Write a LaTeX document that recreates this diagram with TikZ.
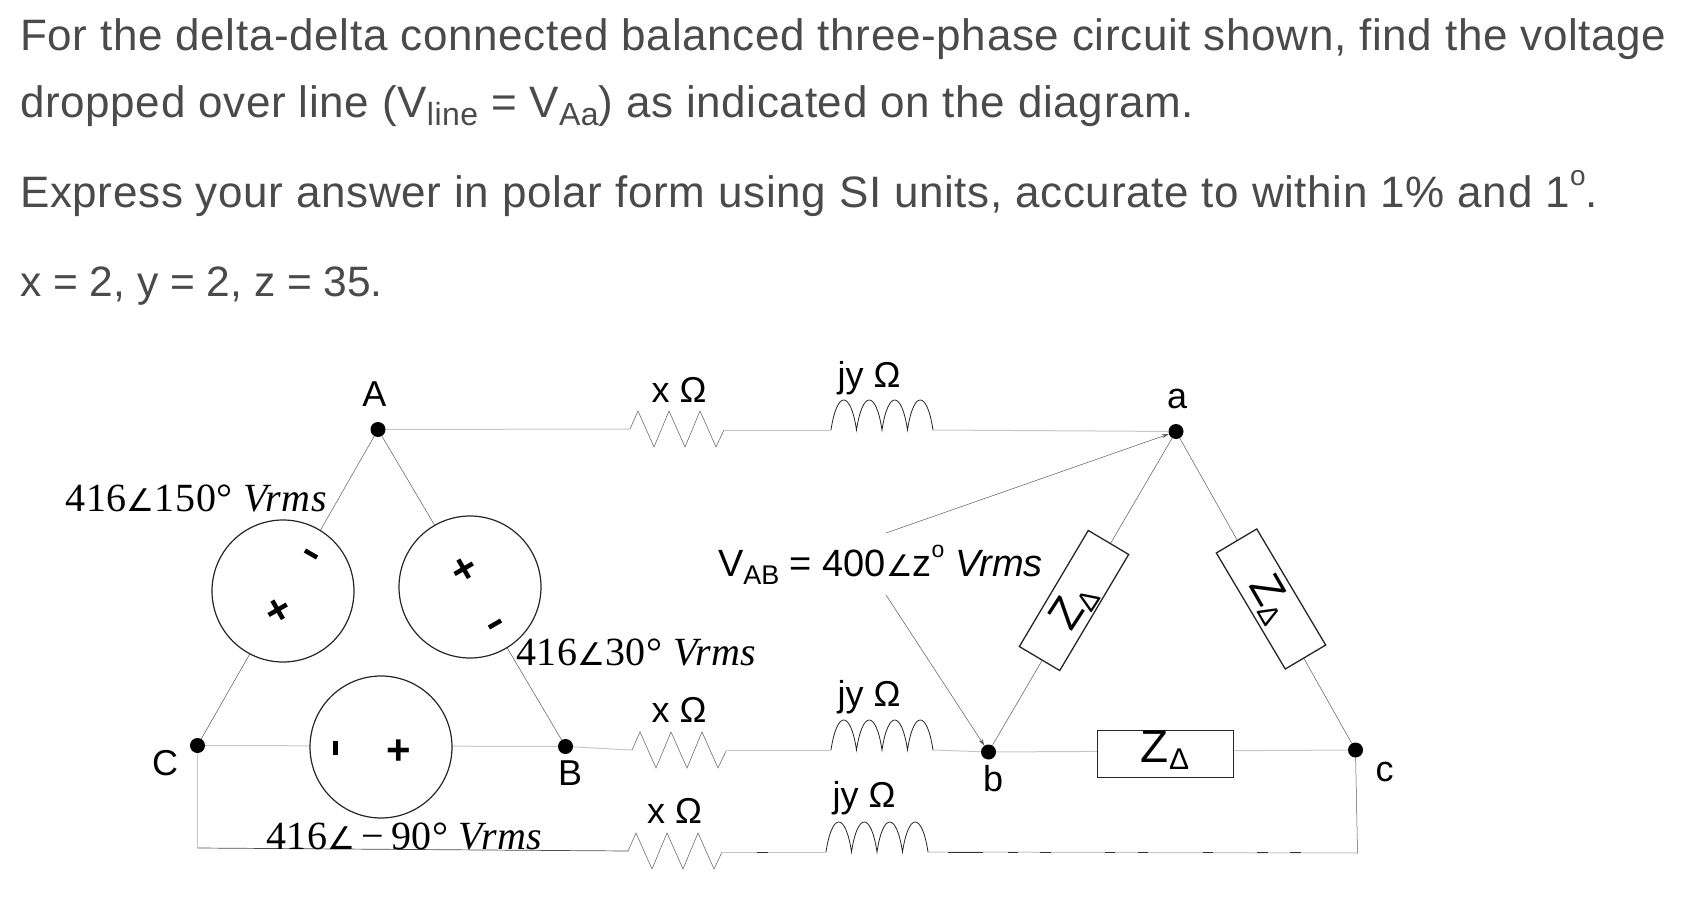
\documentclass[tikz,border=0pt]{standalone}
\usepackage{fontspec}
\setmainfont{Liberation Sans}
\newfontfamily\serifnum[LetterSpace=1.5]{Liberation Serif}
\newfontfamily\angf{DejaVu Sans}
\newfontfamily\paraf[LetterSpace=1.5]{Liberation Sans}
\usetikzlibrary{arrows.meta}
\definecolor{txt}{HTML}{4A4A4A}
\newcommand{\fs}[1]{\fontsize{#1}{#1}\selectfont}
\newcommand{\ang}{{\angf\fontsize{.78em}{1em}\selectfont ∠}}
\tikzset{
  x=1pt,y=-1pt,
  para/.style={anchor=base west,text=txt,inner sep=0,font=\paraf\fs{44}},
  lab/.style={inner sep=0,font=\fs{36}},
  mlab/.style={inner sep=0,font=\serifnum\fs{40}},
  dot/.style={circle,fill=black,minimum size=15pt,inner sep=0},
  source/.style={circle,draw=black!85,line width=1.2pt,fill=white,minimum size=142pt,inner sep=0},
  load/.style={draw=black!85,line width=1.3pt,fill=white,inner sep=0,minimum width=136pt,minimum height=47pt},
  lite/.style={draw=black!22,line width=1pt},
  thin wire/.style={draw=black!65,line width=.5pt},
  ind/.style={draw=black!85,line width=.8pt},
  pol/.style={inner sep=0,font=\bfseries\fs{42}},
  tip/.style={-{Stealth[length=7pt,width=4pt]},draw=black!65,line width=.5pt},
  dash seg/.style={draw=black!80,line width=1pt}
}
\newcommand{\zig}[1]{\draw[thin wire] (#1) -- ++(8,-18) -- ++(16,36) -- ++(15,-36) -- ++(16,36) -- ++(15,-36) -- ++(16,36) -- ++(8,-17);}
\newcommand{\arches}[1]{\draw[ind] (#1) .. controls +(6,-40) and +(-6,-40) .. ++(25.5,0) .. controls +(6,-40) and +(-6,-40) .. ++(25.5,0) .. controls +(6,-40) and +(-6,-40) .. ++(25.5,0) .. controls +(6,-40) and +(-6,-40) .. ++(25.5,0);}
\begin{document}
\begin{tikzpicture}
\useasboundingbox (0,0) rectangle (1692,920);
% text
\node[para] (l1) at (20,51) {For the delta-delta connected balanced three-phase circuit shown, find the voltage};
\node[para] (l2) at (20,118) {dropped over line (V\raisebox{-.18em}{\paraf\fs{32}line} = V\raisebox{-.18em}{\paraf\fs{32}Aa}) as indicated on the diagram.};
\node[para] (l3) at (20,208) {Express your answer in polar form using SI units, accurate to within 1\% and 1\raisebox{.5em}{\paraf\fs{28}o}.};
\node[para,font=\fs{42.5}] (l4) at (20,296) {x = 2, y = 2, z = 35.};
% junctions
\node[dot] (A) at (378,429.5) {};
\node[dot] (B) at (565.5,746.5) {};
\node[dot] (C) at (197.5,745.5) {};
\node[dot] (a) at (1176,431.5) {};
\node[dot] (b) at (988.5,752) {};
\node[dot] (c) at (1355.5,750) {};
% component terminals
\coordinate (r1) at (630,429);
\coordinate (r1e) at (724,430);
\coordinate (i1) at (831,430);
\coordinate (i1e) at (933,430);
\coordinate (r2) at (632,750);
\coordinate (r2e) at (726,750);
\coordinate (i2) at (831,750);
\coordinate (i2e) at (933,750);
\coordinate (r3) at (628,851);
\coordinate (r3e) at (722,852);
\coordinate (i3) at (826,852);
\coordinate (i3e) at (928,852);
\coordinate (c1) at (197.5,848);
\coordinate (c2) at (1357.5,853);
% wires
\draw[lite] (A) -- (r1);
\draw[lite] (r1e) -- (i1);
\draw[lite] (i1e) -- (a);
\draw[lite] (C) -- (B);
\draw[lite] (B) -- (r2);
\draw[lite] (r2e) -- (i2);
\draw[lite] (i2e) -- (b);
\draw[lite] (b) -- (c);
\draw[lite] (c1) -- (C);
\draw[draw=black!70,line width=.7pt] (c1) -- (r3);
\draw[lite] (r3e) -- (i3);
\draw[lite] (i3e) -- (c2);
\draw[thin wire] (c2) -- (c);
\draw[thin wire] (A) -- (C);
\draw[thin wire] (A) -- (B);
\draw[thin wire] (a) -- (b);
\draw[thin wire] (a) -- (c);
% broken dark dashes of the bottom wire
\foreach \u/\v in {757/768,948/983,1008/1018,1040/1051,1105/1115,1138/1148,1203/1213,1257/1268,1290/1301}
  \draw[dash seg] (\u,852.5) -- (\v,852.5);
% resistors and inductors
\zig{r1}\zig{r2}\zig{r3}
\arches{i1}\arches{i2}\arches{i3}
% sources
\node[source] (sl) at (283,591) {};
\node[source] (sr) at (470,587) {};
\node[source] (sb) at (381,747) {};
\node[pol,rotate=30] (p1) at (279,612) {+};
\node[inner sep=0,minimum width=14pt,minimum height=4.5pt,fill=black,rotate=-30] (m1) at (311,554) {};
\node[pol,rotate=30] (p2) at (465,571) {+};
\node[inner sep=0,minimum width=14pt,minimum height=4.5pt,fill=black,rotate=30] (m2) at (495,624) {};
\node[pol] (p3) at (399,752) {+};
\node[inner sep=0,minimum width=4.5pt,minimum height=14pt,fill=black] (m3) at (335.5,748) {};
% loads
\node[load,rotate=59.3,minimum width=135pt] (zl) at (1074,600.5) {};
\node[load,rotate=-59.3,minimum width=135pt] (zr) at (1271,599) {};
\node[load] (zb) at (1165.3,753.8) {};
\node[inner sep=0,rotate=57,font=\fs{44}] (zlt) at (1074,607) {Z\raisebox{-.15em}{\fs{28}Δ}};
\node[inner sep=0,rotate=-60,font=\fs{44}] (zrt) at (1270,599) {Z\raisebox{-.15em}{\fs{28}Δ}};
\node[inner sep=0,font=\fs{46}] (zbt) at (1165,750) {Z\raisebox{-.15em}{\fs{30}Δ}};
% labels
\node[lab] (tA) at (374.5,394) {A};
\node[lab] (ta) at (1177,399) {a};
\node[lab] (tB) at (570,773) {B};
\node[lab] (tC) at (165,763) {C};
\node[lab] (tb) at (993,779) {b};
\node[lab] (tc) at (1384.5,772) {c};
\node[lab] (x1) at (679,390) {x Ω};
\node[lab] (y1) at (869,378) {jy Ω};
\node[lab] (x2) at (679,710) {x Ω};
\node[lab] (y2) at (869,697) {jy Ω};
\node[lab] (x3) at (674.5,811) {x Ω};
\node[lab] (y3) at (864,798) {jy Ω};
\node[mlab] (v1) at (196.5,498) {416\ang 150° \textit{Vrms}};
\node[mlab] (v2) at (636.5,652) {416\ang 30° \textit{Vrms}};
\node[mlab] (v3) at (404.5,836) {416\ang\,−\,90° \textit{Vrms}};
\node[lab,font=\fs{38}] (vab) at (880.5,565) {V\raisebox{-.22em}{\fs{27}AB} = 400\ang z\raisebox{.5em}{\fs{23}o} \textit{Vrms}};
\coordinate (va1) at (886,533);
\coordinate (va2) at (886,595);
\draw[tip] (va1) -- (a);
\draw[tip] (va2) -- (b);
\end{tikzpicture}
\end{document}
